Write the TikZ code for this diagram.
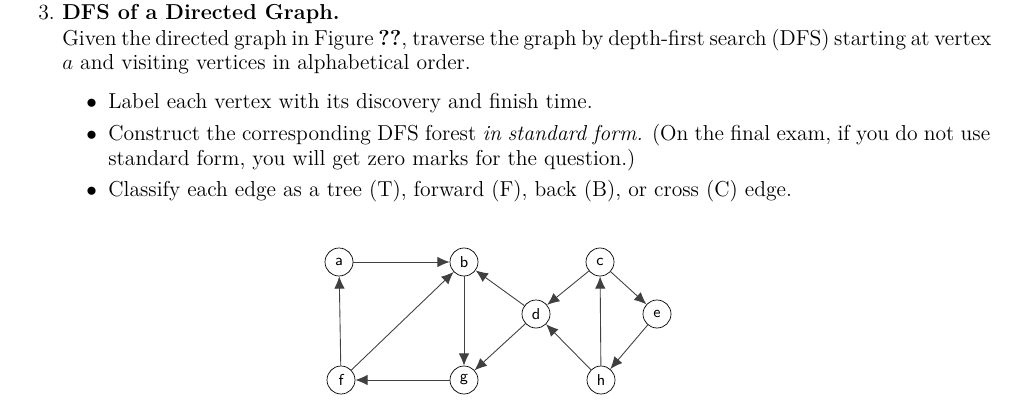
\documentclass[tikz,border=0pt]{standalone}
\usepackage{amsmath,amssymb}
\usepackage{tikz}
\usetikzlibrary{arrows.meta}
\newcommand{\Wd}{18.56cm}
\begin{document}
\begin{tikzpicture}[x=0.02cm,y=-0.02cm,
  txt/.style={anchor=base west,inner sep=0pt,font=\fontsize{12.3}{14}\selectfont},
  vtx/.style={draw,circle,minimum size=0.56cm,inner sep=0pt,font=\sffamily\fontsize{9}{10}\selectfont},
  edge/.style={-{Latex[length=7pt,width=6pt]},draw=black!75,line width=0.5pt}]
        \useasboundingbox (0,0) rectangle (1024,402);
        % text of the question
        \node[txt] (num) at (38,20) {3.};
        \node[txt] (title) at (62,20) {\textbf{DFS of a Directed Graph.}};
        \node[txt] (l1) at (62,46) {\makebox[\Wd][s]{Given the directed graph in Figure \textbf{??}, traverse the graph by depth-first search (DFS) starting at vertex}};
        \node[txt] (l2) at (62,70) {$a$ and visiting vertices in alphabetical order.};
        \foreach \yy in {109,140,196}
          \node[txt] at (86,\yy) {$\bullet$};
        \node[txt] (b1) at (108,109) {Label each vertex with its discovery and finish time.};
        \node[txt] (b2) at (108,140) {\makebox[17.64cm][s]{Construct the corresponding DFS forest \textit{in standard form.} (On the final exam, if you do not use}};
        \node[txt] (b2b) at (108,165) {standard form, you will get zero marks for the question.)};
        \node[txt] (b3) at (108,196) {Classify each edge as a tree (T), forward (F), back (B), or cross (C) edge.};
        % the graph
        \node[vtx] (a) at (339,262) {a};
        \node[vtx] (b) at (464,262) {b};
        \node[vtx] (c) at (600,262) {c};
        \node[vtx] (d) at (536,314) {d};
        \node[vtx] (e) at (657,314) {e};
        \node[vtx] (f) at (341,380) {f};
        \node[vtx] (g) at (464,380) {g};
        \node[vtx] (h) at (601,380) {h};
        \draw[edge] (a) -- (b);
        \draw[edge] (f) -- (a);
        \draw[edge] (f) -- (b);
        \draw[edge] (b) -- (g);
        \draw[edge] (g) -- (f);
        \draw[edge] (d) -- (b);
        \draw[edge] (d) -- (g);
        \draw[edge] (c) -- (d);
        \draw[edge] (c) -- (e);
        \draw[edge] (e) -- (h);
        \draw[edge] (h) -- (c);
        \draw[edge] (h) -- (d);
      \end{tikzpicture}
\end{document}
